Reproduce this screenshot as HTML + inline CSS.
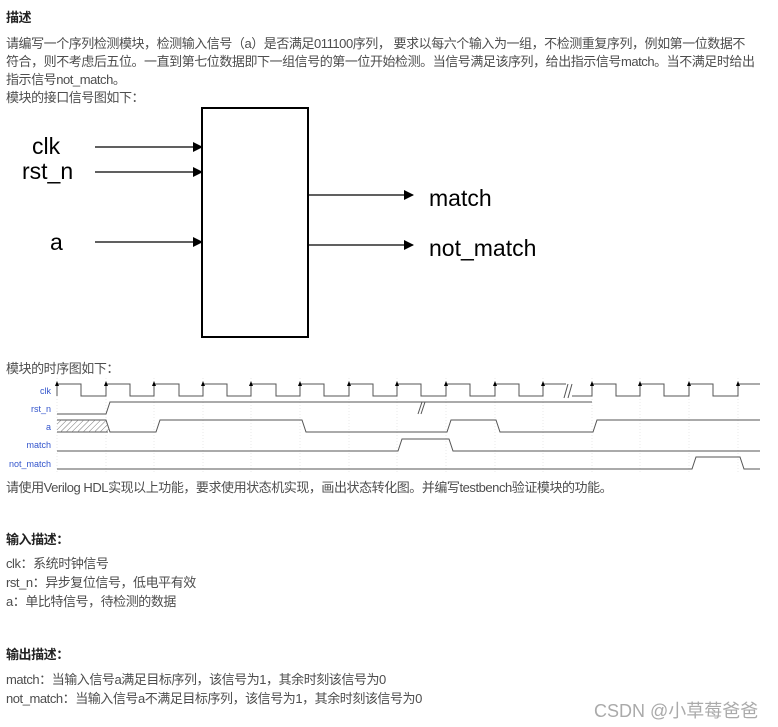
<!DOCTYPE html>
<html><head><meta charset="utf-8"><style>
body{margin:0;width:778px;height:727px;background:#fff;position:relative;overflow:hidden;font-family:"Liberation Sans","Noto Sans CJK SC",sans-serif;color:#4d4d4d;}
.t{position:absolute;left:6px;font-size:13px;line-height:18px;white-space:nowrap;letter-spacing:-0.45px;}
.b{font-weight:bold;color:#222;}
svg{position:absolute;left:0;top:0;}
</style></head><body>
<div class="t b" style="top:9px">描述</div>
<div class="t" style="top:35px">请编写一个序列检测模块，检测输入信号（a）是否满足011100序列， 要求以每六个输入为一组，不检测重复序列，例如第一位数据不</div>
<div class="t" style="top:53px">符合，则不考虑后五位。一直到第七位数据即下一组信号的第一位开始检测。当信号满足该序列，给出指示信号match。当不满足时给出</div>
<div class="t" style="top:71px">指示信号not_match。</div>
<div class="t" style="top:89px">模块的接口信号图如下：</div>
<div class="t" style="top:360px">模块的时序图如下：</div>
<div class="t" style="top:479px">请使用Verilog HDL实现以上功能，要求使用状态机实现，画出状态转化图。并编写testbench验证模块的功能。</div>
<div class="t b" style="top:531px">输入描述：</div>
<div class="t" style="top:555px">clk：系统时钟信号</div>
<div class="t" style="top:574px">rst_n：异步复位信号，低电平有效</div>
<div class="t" style="top:593px">a：单比特信号，待检测的数据</div>
<div class="t b" style="top:646px">输出描述：</div>
<div class="t" style="top:671px">match：当输入信号a满足目标序列，该信号为1，其余时刻该信号为0</div>
<div class="t" style="top:690px">not_match：当输入信号a不满足目标序列，该信号为1，其余时刻该信号为0</div>
<div style="position:absolute;left:594px;top:697px;font-size:18px;color:#aaa;white-space:nowrap">CSDN @小草莓爸爸</div>
<svg width="778" height="727" xmlns="http://www.w3.org/2000/svg">
<defs><marker id="ar" markerWidth="10" markerHeight="10" refX="9" refY="5" orient="auto" markerUnits="userSpaceOnUse"><path d="M0,0 L10,5 L0,10 z" fill="#000"/></marker>
<pattern id="h" width="4" height="4" patternUnits="userSpaceOnUse" patternTransform="rotate(45)"><line x1="0" y1="0" x2="0" y2="4" stroke="#777" stroke-width="1"/></pattern></defs>
<rect x="202" y="108" width="106" height="229" fill="none" stroke="#000" stroke-width="2"/>
<g stroke="#000" stroke-width="1.3" marker-end="url(#ar)">
<line x1="95" y1="147" x2="202" y2="147"/><line x1="95" y1="172" x2="202" y2="172"/><line x1="95" y1="242" x2="202" y2="242"/>
<line x1="308" y1="195" x2="413" y2="195"/><line x1="308" y1="245" x2="413" y2="245"/></g>
<g font-family="Liberation Sans,sans-serif" font-size="23" fill="#000">
<text x="32" y="154">clk</text><text x="22" y="179">rst_n</text><text x="50" y="250">a</text>
<text x="429" y="206">match</text><text x="429" y="256">not_match</text></g>
<g font-family="Liberation Sans,sans-serif" font-size="9" fill="#3355cc" text-anchor="end">
<text x="51" y="394">clk</text><text x="51" y="412">rst_n</text><text x="51" y="430">a</text><text x="51" y="448">match</text><text x="51" y="467">not_match</text></g>
<g stroke="#ddd" stroke-width="0.6" stroke-dasharray="1,2">
<line x1="57" y1="378" x2="57" y2="474"/><line x1="106" y1="378" x2="106" y2="474"/><line x1="154" y1="378" x2="154" y2="474"/><line x1="203" y1="378" x2="203" y2="474"/><line x1="251" y1="378" x2="251" y2="474"/><line x1="300" y1="378" x2="300" y2="474"/><line x1="349" y1="378" x2="349" y2="474"/><line x1="397" y1="378" x2="397" y2="474"/><line x1="446" y1="378" x2="446" y2="474"/><line x1="495" y1="378" x2="495" y2="474"/><line x1="543" y1="378" x2="543" y2="474"/><line x1="592" y1="378" x2="592" y2="474"/><line x1="640" y1="378" x2="640" y2="474"/><line x1="689" y1="378" x2="689" y2="474"/><line x1="738" y1="378" x2="738" y2="474"/></g>
<g fill="none" stroke="#555" stroke-width="1">
<path d="M57,396 V384 H81 V396 H106 V384 H130 V396 H154 V384 H179 V396 H203 V384 H227 V396 H251 V384 H276 V396 H300 V384 H324 V396 H349 V384 H373 V396 H397 V384 H421 V396 H446 V384 H470 V396 H495 V384 H519 V396 H543 V384 H566"/>
<path d="M572,396 H592 V384 H616 V396 H640 V384 H664 V396 H689 V384 H713 V396 H738 V384 H760"/>
<path d="M57,414 H106 L110,402 H592"/>
<path d="M57,432 H108 M57,420 H106 L110,432 H156 L160,420 H302 L306,432 H447 L451,420 H496 L500,432 H593 L597,420 H760"/>
<path d="M57,451 H398 L402,439 H449 L453,451 H760"/>
<path d="M57,469 H692 L696,457 H740 L744,469 H760"/>
<path d="M564,398 L568,384 M568,398 L572,384"/>
<path d="M418,414 L422,402 M421,414 L425,402"/>
</g>
<polygon points="57,420 106,420 110,432 57,432" fill="url(#h)"/>
<g fill="#000"><path d="M55,386 l2,-5 l2,5z"/><path d="M104,386 l2,-5 l2,5z"/><path d="M152,386 l2,-5 l2,5z"/><path d="M201,386 l2,-5 l2,5z"/><path d="M249,386 l2,-5 l2,5z"/><path d="M298,386 l2,-5 l2,5z"/><path d="M347,386 l2,-5 l2,5z"/><path d="M395,386 l2,-5 l2,5z"/><path d="M444,386 l2,-5 l2,5z"/><path d="M493,386 l2,-5 l2,5z"/><path d="M541,386 l2,-5 l2,5z"/><path d="M590,386 l2,-5 l2,5z"/><path d="M638,386 l2,-5 l2,5z"/><path d="M687,386 l2,-5 l2,5z"/><path d="M736,386 l2,-5 l2,5z"/></g>
</svg>
</body></html>
